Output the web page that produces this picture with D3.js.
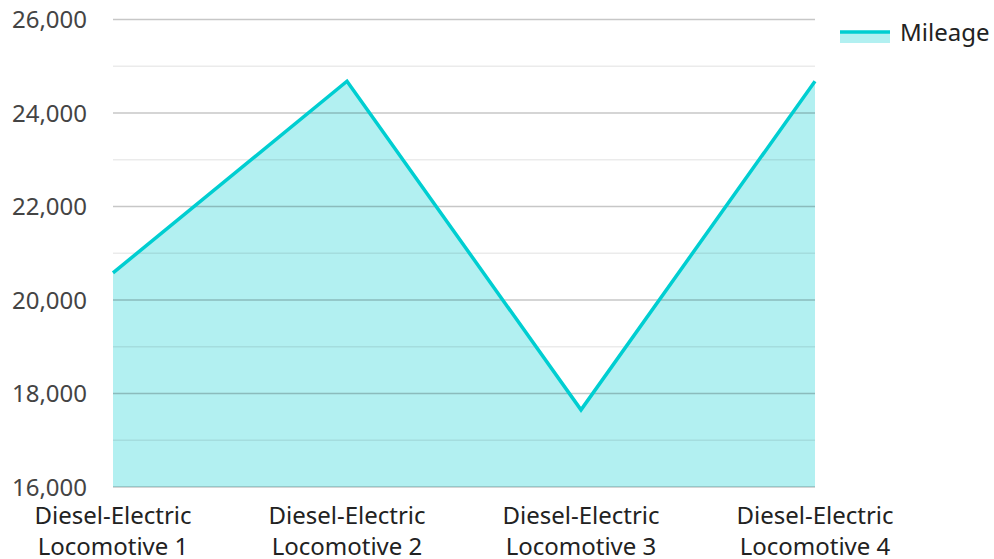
<!DOCTYPE html>
<html><head><meta charset="utf-8">
<script src="https://cdn.jsdelivr.net/npm/d3@7"></script>
<style>
html,body{margin:0;padding:0;background:#fff;}
svg{display:block;font-family:"Noto Sans",sans-serif;}
</style></head>
<body><svg id="c" width="994" height="559"></svg>
<script>
const categories = ["Diesel-Electric Locomotive 1","Diesel-Electric Locomotive 2","Diesel-Electric Locomotive 3","Diesel-Electric Locomotive 4"];
const mileage = [20580, 24680, 17650, 24680];
const seriesName = "Mileage";
const yTicks = [16000,18000,20000,22000,24000,26000];
const yMinorTicks = [17000,19000,21000,23000,25000];

(function(){
const svg = d3.select("#c");
const pLeft = 113, pRight = 815, pTop = 19.5, pBottom = 487;
const x = d3.scalePoint().domain(categories).range([pLeft, pRight]).padding(0);
const y = d3.scaleLinear().domain([16000, 26000]).range([pBottom, pTop]);
const color = "#00CED1";

const data = categories.map((c,i)=>({c, v: mileage[i]}));

svg.append("path").datum(data)
  .attr("fill", color).attr("fill-opacity", 0.3)
  .attr("d", d3.area().x(d=>x(d.c)).y0(y(16000)).y1(d=>y(d.v)));

// gridlines
svg.append("g").selectAll("line").data(yMinorTicks).join("line")
  .attr("x1", pLeft).attr("x2", pRight).attr("y1", d=>y(d)).attr("y2", d=>y(d))
  .attr("stroke", "rgba(0,0,0,0.08)").attr("stroke-width", 1.5);
svg.append("g").selectAll("line").data(yTicks).join("line")
  .attr("x1", pLeft).attr("x2", pRight).attr("y1", d=>y(d)).attr("y2", d=>y(d))
  .attr("stroke", "rgba(0,0,0,0.22)").attr("stroke-width", 1.5);

svg.append("path").datum(data)
  .attr("fill", "none").attr("stroke", color).attr("stroke-width", 3.5)
  .attr("stroke-linejoin", "miter")
  .attr("d", d3.line().x(d=>x(d.c)).y(d=>y(d.v)));

// y axis labels
const fmt = d3.format(",");
svg.append("g").selectAll("text").data(yTicks).join("text")
  .attr("x", 87).attr("y", d=>y(d)).attr("dy", "0.36em")
  .attr("text-anchor", "end").attr("font-size", 24).attr("fill", "#444")
  .text(d=>fmt(d));

// x axis labels
const xl = svg.append("g").selectAll("text").data(categories).join("text")
  .attr("x", d=>x(d)).attr("y", 524)
  .attr("text-anchor", "middle").attr("font-size", 24).attr("fill", "#222");
xl.each(function(d){
  const parts = d.split(" ");
  const l1 = parts.slice(0,1).join(" "), l2 = parts.slice(1).join(" ");
  const t = d3.select(this);
  t.append("tspan").attr("x", x(d)).attr("dy", 0).text(l1);
  t.append("tspan").attr("x", x(d)).attr("dy", 31).text(l2);
});

// legend
const lg = svg.append("g");
lg.append("rect").attr("x", 840).attr("y", 31).attr("width", 50).attr("height", 12)
  .attr("fill", color).attr("fill-opacity", 0.3);
lg.append("line").attr("x1", 840).attr("x2", 890).attr("y1", 32).attr("y2", 32)
  .attr("stroke", color).attr("stroke-width", 3.5);
lg.append("text").attr("x", 900).attr("y", 32).attr("dy", "0.36em")
  .attr("font-size", 24).attr("fill", "#222").text(seriesName);
})();
</script></body></html>
